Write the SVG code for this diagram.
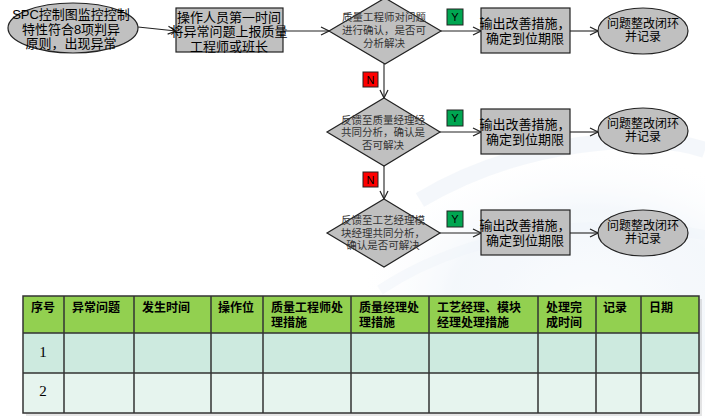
<svg xmlns="http://www.w3.org/2000/svg" width="705" height="418" viewBox="0 0 705 418">
  <defs>
    <marker id="arrow" viewBox="0 0 10 10" refX="9" refY="5" markerWidth="10" markerHeight="10" markerUnits="userSpaceOnUse" orient="auto">
      <path d="M1,1 L9,5 L1,9" fill="none" stroke="#222" stroke-width="1.2"/>
    </marker>
    <radialGradient id="glow" cx="0.5" cy="0.5" r="0.5">
      <stop offset="0" stop-color="#f6f9fd" stop-opacity="0.8"/>
      <stop offset="0.6" stop-color="#e2ecf7" stop-opacity="0.6"/>
      <stop offset="1" stop-color="#ffffff" stop-opacity="0"/>
    </radialGradient>
    <style>
      .cjk { font-family: "Liberation Sans", "Noto Sans CJK SC", sans-serif; fill: #000; text-anchor: middle; dominant-baseline: central; }
      .shape { fill: #c0c0c0; stroke: #222; stroke-width: 1.2; }
      .t13 { font-size: 13px; }
      .t12 { font-size: 12px; }
      .t11 { font-size: 10.5px; fill: #333; }
      .conn { fill: none; stroke: #222; stroke-width: 1.1; marker-end: url(#arrow); }
      .yes { fill: #00a651; stroke: #222; stroke-width: 1; }
      .no { fill: #ff0000; stroke: #222; stroke-width: 1; }
      .lbl { font-family: "Liberation Sans", sans-serif; font-size: 11px; text-anchor: middle; dominant-baseline: central; fill: #000; }
      .hd { font-family: "Liberation Sans", "Noto Sans CJK SC", sans-serif; font-size: 12px; font-weight: bold; fill: #000; }
      .num { font-family: "Liberation Serif", serif; font-size: 15px; text-anchor: middle; dominant-baseline: central; fill: #000; }
      .grid { fill: none; stroke: #333; stroke-width: 1.5; }
    </style>
  </defs>

  <!-- page backdrop -->
  <rect x="0" y="0" width="705" height="418" fill="#ffffff"/>
  <g id="backdrop" opacity="0.6">
    <ellipse cx="590" cy="300" rx="230" ry="150" fill="url(#glow)"/>
    <path d="M420,200 C520,140 650,130 705,150" fill="none" stroke="#dde8f4" stroke-width="16" opacity="0.5"/>
    <path d="M380,290 C470,230 600,215 705,235" fill="none" stroke="#e6eef7" stroke-width="10" opacity="0.5"/>
  </g>

  <!-- connectors -->
  <g id="connectors">
    <line class="conn" x1="138" y1="27" x2="176" y2="31"/>
    <line class="conn" x1="283" y1="31" x2="329" y2="31"/>
    <line class="conn" x1="441" y1="31" x2="481" y2="31"/>
    <line class="conn" x1="570" y1="31" x2="598" y2="31"/>
    <line class="conn" x1="384" y1="64" x2="384" y2="98"/>
    <line class="conn" x1="440" y1="132" x2="481" y2="132"/>
    <line class="conn" x1="570" y1="132" x2="598" y2="132"/>
    <line class="conn" x1="384" y1="166" x2="384" y2="199"/>
    <line class="conn" x1="440" y1="233" x2="481" y2="233"/>
    <line class="conn" x1="570" y1="233" x2="598" y2="233"/>
  </g>

  <!-- start: abnormal signal -->
  <g id="start">
    <ellipse class="shape" cx="73" cy="28" rx="65" ry="25"/>
    <text class="cjk t13"><tspan x="71" y="14">SPC控制图监控控制</tspan><tspan x="71" y="28.5">特性符合8项判异</tspan><tspan x="71" y="43">原则，出现异常</tspan></text>
  </g>

  <g id="report">
    <rect class="shape" x="176" y="8" width="107" height="44"/>
    <text class="cjk t13"><tspan x="229" y="16.5">操作人员第一时间</tspan><tspan x="229" y="31">将异常问题上报质量</tspan><tspan x="229" y="45.5">工程师或班长</tspan></text>
  </g>

  <!-- decision 1 -->
  <g id="decision1">
    <polygon class="shape" points="385,-2 441,31 385,64 329,31"/>
    <text class="cjk t11"><tspan x="384" y="17">质量工程师对问题</tspan><tspan x="384" y="30">进行确认，是否可</tspan><tspan x="384" y="43">分析解决</tspan></text>
  </g>
  <g id="yes1">
    <rect class="yes" x="447" y="9" width="16" height="16"/>
    <text class="lbl" x="455" y="17">Y</text>
  </g>
  <g id="action1">
    <rect class="shape" x="481" y="8" width="89" height="45"/>
    <text class="cjk t13"><tspan x="525" y="23">输出改善措施，</tspan><tspan x="525" y="37.5">确定到位期限</tspan></text>
  </g>
  <g id="close1">
    <ellipse class="shape" cx="643" cy="31" rx="45" ry="23"/>
    <text class="cjk t12"><tspan x="643" y="23.5">问题整改闭环</tspan><tspan x="643" y="37">并记录</tspan></text>
  </g>
  <g id="no1">
    <rect class="no" x="363" y="72" width="15" height="15"/>
    <text class="lbl" x="370.5" y="79.5">N</text>
  </g>

  <!-- decision 2 -->
  <g id="decision2">
    <polygon class="shape" points="384,98 440,132 384,166 327,132"/>
    <text class="cjk t11"><tspan x="383" y="119.5">反馈至质量经理经</tspan><tspan x="383" y="132">共同分析，确认是</tspan><tspan x="383" y="144.5">否可解决</tspan></text>
  </g>
  <g id="yes2">
    <rect class="yes" x="447" y="110" width="16" height="16"/>
    <text class="lbl" x="455" y="118">Y</text>
  </g>
  <g id="action2">
    <rect class="shape" x="481" y="109" width="89" height="45"/>
    <text class="cjk t13"><tspan x="525" y="124">输出改善措施，</tspan><tspan x="525" y="138.5">确定到位期限</tspan></text>
  </g>
  <g id="close2">
    <ellipse class="shape" cx="643" cy="131" rx="45" ry="23"/>
    <text class="cjk t12"><tspan x="643" y="123.5">问题整改闭环</tspan><tspan x="643" y="137">并记录</tspan></text>
  </g>
  <g id="no2">
    <rect class="no" x="363" y="172" width="15" height="15"/>
    <text class="lbl" x="370.5" y="179.5">N</text>
  </g>

  <!-- decision 3 -->
  <g id="decision3">
    <polygon class="shape" points="384,199 440,233 384,267 327,233"/>
    <text class="cjk t11"><tspan x="383" y="220">反馈至工艺经理模</tspan><tspan x="383" y="232.5">块经理共同分析，</tspan><tspan x="383" y="245">确认是否可解决</tspan></text>
  </g>
  <g id="yes3">
    <rect class="yes" x="447" y="211" width="16" height="16"/>
    <text class="lbl" x="455" y="219">Y</text>
  </g>
  <g id="action3">
    <rect class="shape" x="481" y="210" width="89" height="45"/>
    <text class="cjk t13"><tspan x="525" y="225">输出改善措施，</tspan><tspan x="525" y="239.5">确定到位期限</tspan></text>
  </g>
  <g id="close3">
    <ellipse class="shape" cx="643" cy="233" rx="45" ry="23"/>
    <text class="cjk t12"><tspan x="643" y="225.5">问题整改闭环</tspan><tspan x="643" y="239">并记录</tspan></text>
  </g>

  <!-- record table -->
  <g id="record-table">
    <rect x="26" y="299" width="676" height="117" fill="#000" opacity="0.1"/>
    <rect x="23" y="296" width="676" height="37" fill="#92d050"/>
    <rect x="23" y="333" width="676" height="40" fill="#cdeadf"/>
    <rect x="23" y="373" width="676" height="40" fill="#e6f4ee"/>
    <rect class="grid" x="23" y="296" width="676" height="117"/>
    <path class="grid" d="M23,333 H699 M23,373 H699 M64,296 V413 M134,296 V413 M211,296 V413 M263,296 V413 M351,296 V413 M429,296 V413 M538,296 V413 M596,296 V413 M641,296 V413"/>

    <text class="hd" x="31" y="312">序号</text>
    <text class="hd" x="72" y="312">异常问题</text>
    <text class="hd" x="142" y="312">发生时间</text>
    <text class="hd" x="218" y="312">操作位</text>
    <text class="hd"><tspan x="271" y="312">质量工程师处</tspan><tspan x="271" y="327">理措施</tspan></text>
    <text class="hd"><tspan x="359" y="312">质量经理处</tspan><tspan x="359" y="327">理措施</tspan></text>
    <text class="hd"><tspan x="437" y="312">工艺经理、模块</tspan><tspan x="437" y="327">经理处理措施</tspan></text>
    <text class="hd"><tspan x="546" y="312">处理完</tspan><tspan x="546" y="327">成时间</tspan></text>
    <text class="hd" x="603" y="312">记录</text>
    <text class="hd" x="649" y="312">日期</text>

    <text class="num" x="43" y="352">1</text>
    <text class="num" x="43" y="391">2</text>
  </g>
</svg>
